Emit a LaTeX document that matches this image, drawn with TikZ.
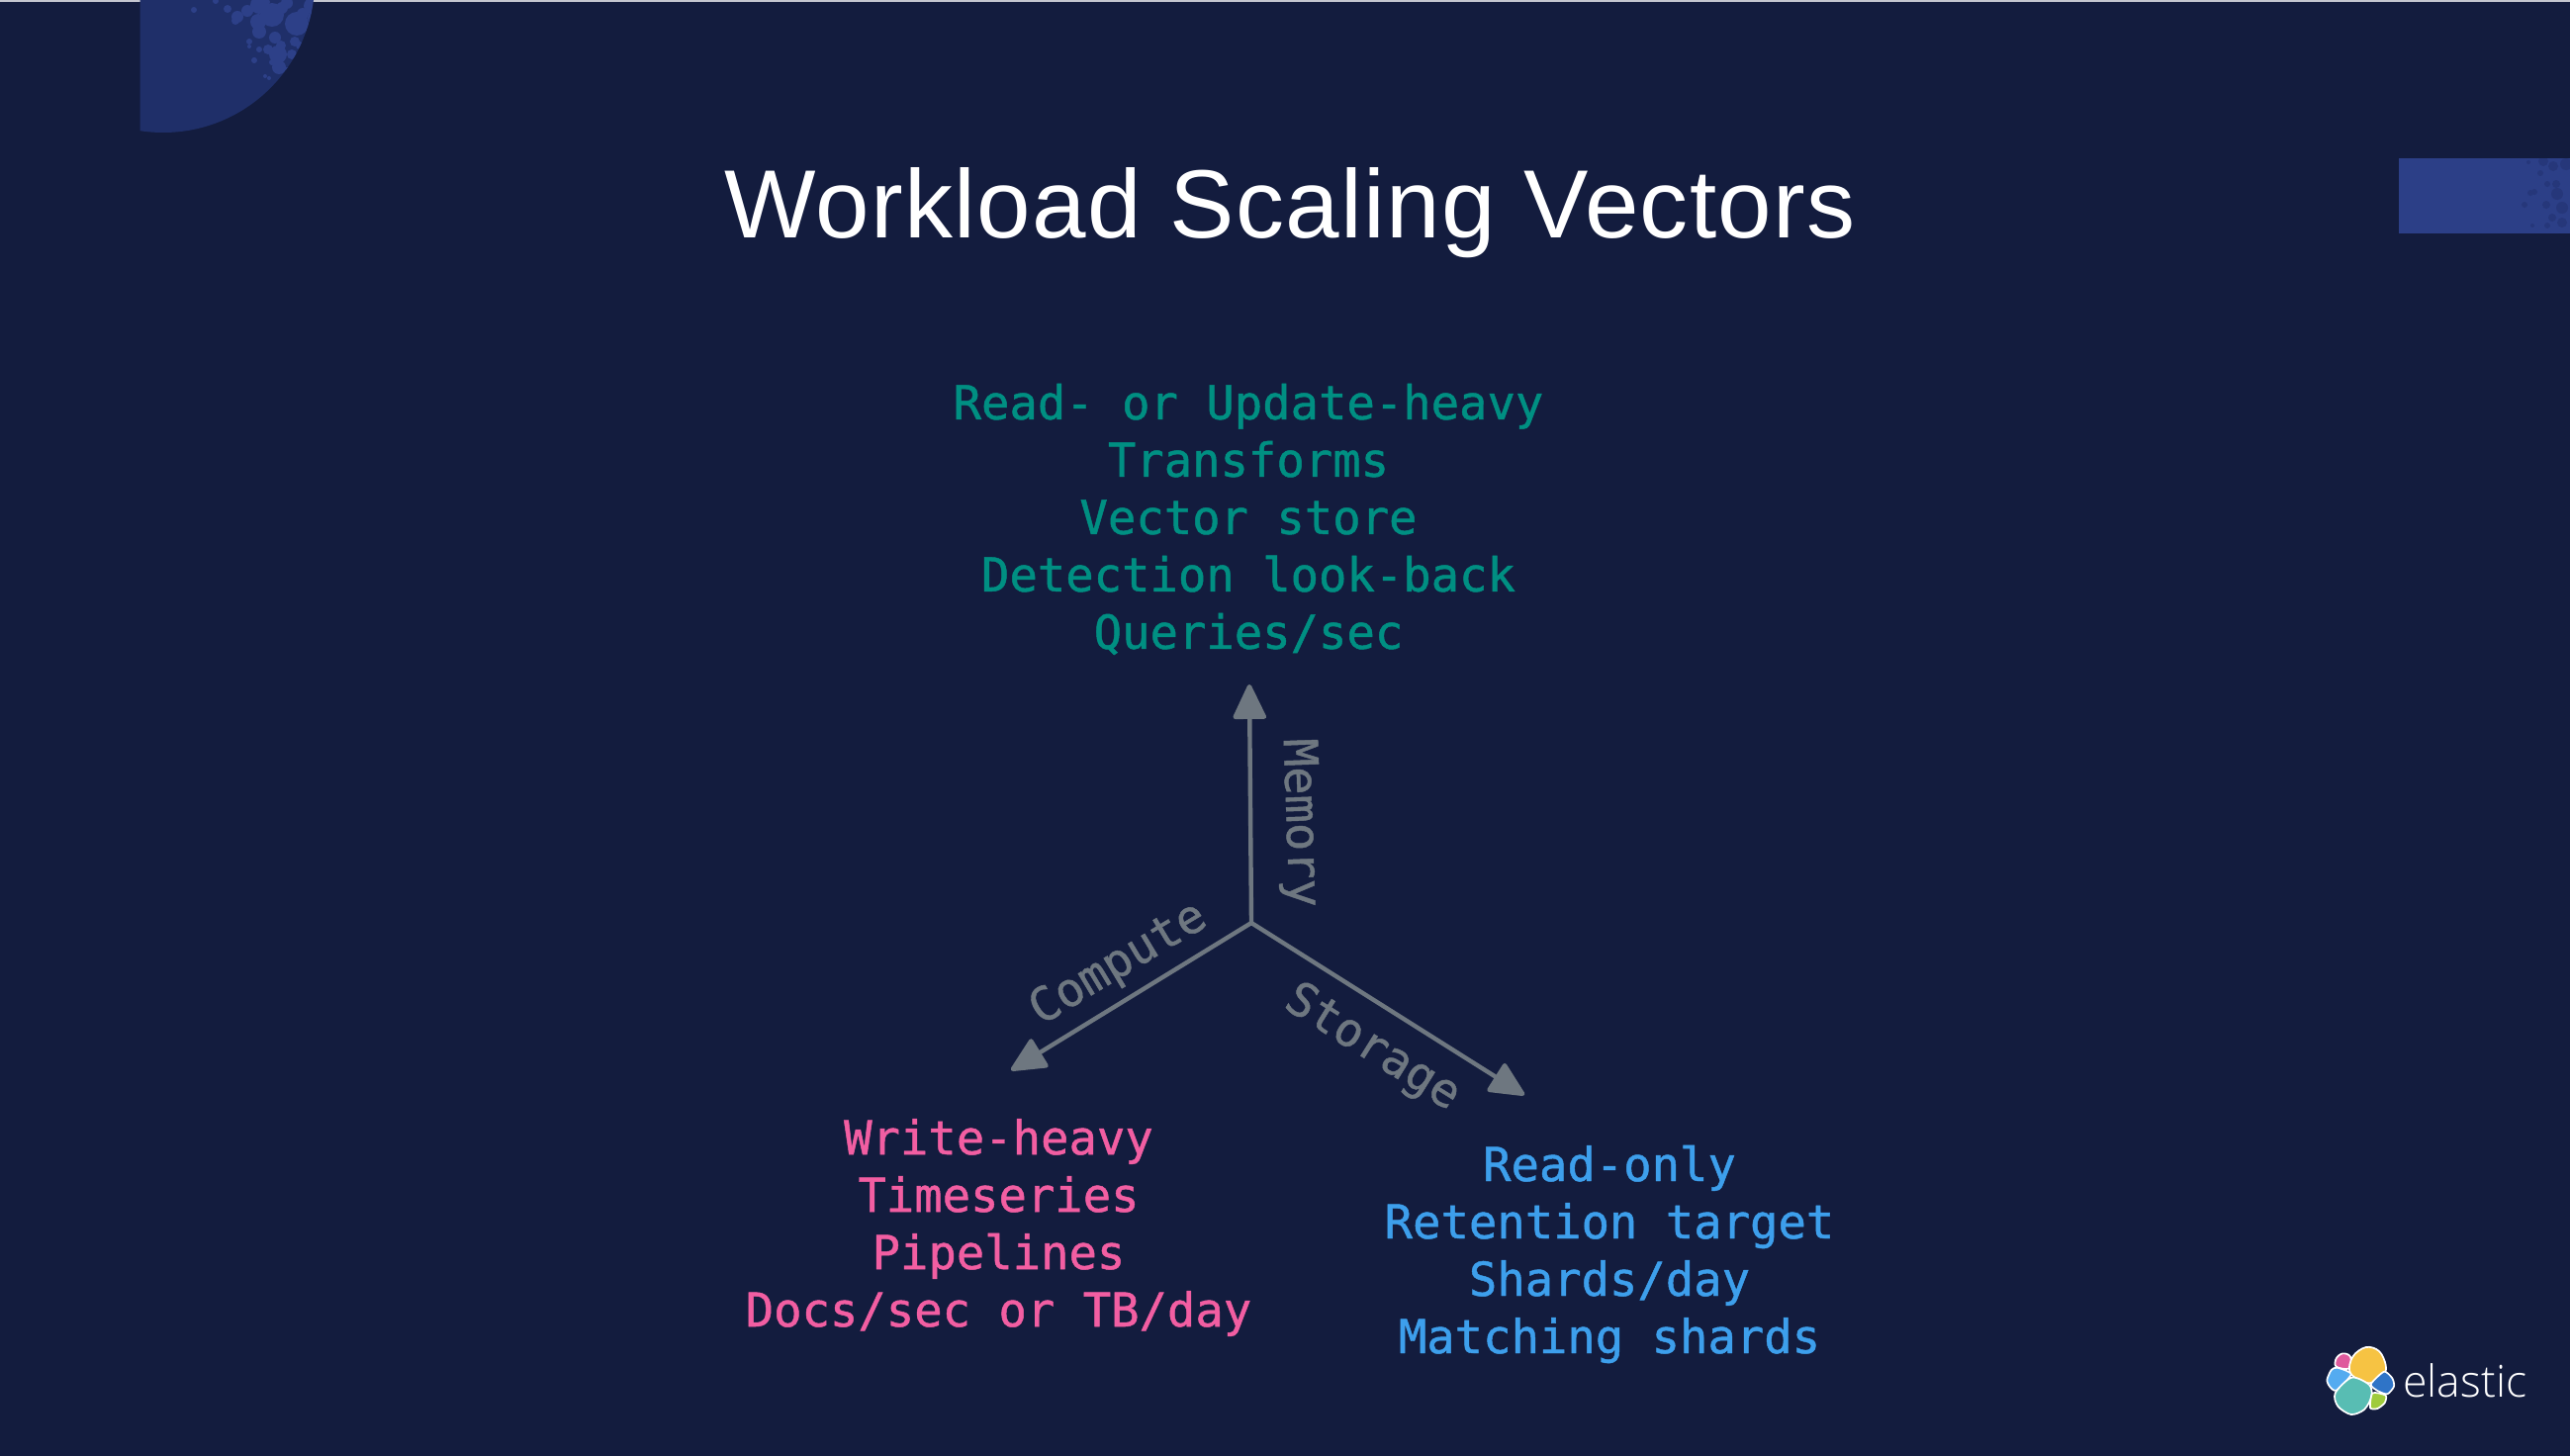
\documentclass[tikz,border=0pt]{standalone}
\usepackage{fontspec}
\setmainfont{Liberation Sans}
\newfontfamily\titlef[LetterSpace=1.4]{Liberation Sans}
\newfontfamily\monof[FakeBold=1]{DejaVu Sans Mono}
\newfontfamily\logof{Open Sans Light}
\usetikzlibrary{arrows.meta}
\definecolor{bgc}{HTML}{131C3E}
\definecolor{shapeA}{HTML}{1F2F69}
\definecolor{dotA}{HTML}{2D4088}
\definecolor{shapeB}{HTML}{2C3F87}
\definecolor{dotB}{HTML}{26377A}
\definecolor{tealc}{HTML}{008F82}
\definecolor{pinkc}{HTML}{F25EA2}
\definecolor{bluec}{HTML}{3D9FEC}
\definecolor{greyc}{HTML}{6E7780}
\definecolor{lgpink}{HTML}{DF5A9D}
\definecolor{lgyellow}{HTML}{F6C343}
\definecolor{lgsky}{HTML}{54ABF0}
\definecolor{lgteal}{HTML}{58BDB3}
\definecolor{lgblue}{HTML}{2F74C7}
\definecolor{lggreen}{HTML}{9FCB3D}
\tikzset{
  x=0.5pt,y=-0.5pt,
  listtext/.style={font=\monof\fontsize{23.6pt}{29pt}\selectfont,align=center,anchor=center,inner sep=0pt},
  axislabel/.style={font=\monof\fontsize{23.6pt}{29pt}\selectfont,text=greyc,inner sep=0pt,anchor=center},
  axisline/.style={draw=greyc,line width=2.2pt,-{Triangle[length=19pt,width=17.5pt,round]}},
  blob/.style={fill=#1,draw=white,line width=0.85pt,line join=round},
}
\begin{document}
\begin{tikzpicture}
\useasboundingbox (0,0) rectangle (2598,1472);
\fill[bgc] (0,0) rectangle (2598,1472);
\fill[white!75!bgc] (0,0) rectangle (2598,1.8);
% corner shape top-left
\begin{scope}
  \clip (141.5,0) rectangle (330,140);
  \fill[shapeA] (165,-19) circle[radius=153];
  \clip (165,-19) circle[radius=153];
  \foreach \px/\py/\pr in {300/24/12,275/15/12,250/11/6,262/5/9,196/10/3,285/8/6,240/17/6,230/9/4,
     261/22/8,238/21/4,262/32/7,278/38/6,252/42/3,284/46/5,262/50/3,303/46/4,298/42/5,
     271/50/5,252/47/2,281/55/9,295/55/5,257/60/2,290/70/2,282/68/7,257/61/3,272/79/2,268/77/2,
     306/14/6,320/18/9,315/6/8,290/3/6,270/2/3,218/1/3,275/63/3}
    \fill[dotA] (\px,\py) circle[radius=\pr];
\end{scope}
% right shape
\begin{scope}
  \clip (2425,160) rectangle (2598,236);
  \fill[shapeB] (2425,160) rectangle (2598,236);
  \foreach \px/\py/\pr in {2556/164/2,2571/163/5,2581/168/5,2594/166/6,2568/175/3,2584/186/4,2575/186/3,2558/195/3,
     2562/194/3,2552/207/3,2574/207/4,2585/196/6,2590/210/6,2580/220/4,2560/228/2,2575/228/3,2590/225/5}
    \fill[dotB] (\px,\py) circle[radius=\pr];
\end{scope}
% title
\node[font=\titlef\fontsize{49pt}{60pt}\selectfont,text=white,anchor=base,inner sep=0pt] (title) at (1304,240) {Workload Scaling Vectors};
% lists
\node[listtext,text=tealc] (memlist) at (1262,525) {Read- or Update-heavy\\Transforms\\Vector store\\Detection look-back\\Queries/sec};
\node[listtext,text=pinkc] (cpulist) at (1009.5,1241) {Write-heavy\\Timeseries\\Pipelines\\Docs/sec or TB/day};
\node[listtext,text=bluec] (storelist) at (1627,1268) {Read-only\\Retention target\\Shards/day\\Matching shards};
% axes
\coordinate (hub) at (1265,933);
\coordinate (memtip) at (1263,692);
\coordinate (cputip) at (1022,1082);
\coordinate (storetip) at (1541,1107);
\draw[axisline] (hub) -- (memtip);
\draw[axisline] (hub) -- (cputip);
\draw[axisline] (hub) -- (storetip);
\node[axislabel,rotate=-88] (memlabel) at (1313,832) {Memory};
\node[axislabel,rotate=31] (cpulabel) at (1131,975) {Compute};
\node[axislabel,rotate=-32] (storelabel) at (1387,1060) {Storage};
% logo
\begin{scope}[shift={(2320,1340)},x=0.1667pt,y=-0.1667pt]
  \draw[blob=lgpink] plot[smooth cycle,tension=0.6] coordinates {(125,100) (145,85) (168,95) (165,130) (125,125)};
  \draw[blob=lgyellow] plot[smooth cycle,tension=0.6] coordinates {(168,145) (175,95) (215,66) (255,78) (275,120) (268,150) (225,175)};
  \draw[blob=lgsky] plot[smooth cycle,tension=0.4] coordinates {(97,165) (110,135) (128,128) (170,148) (125,197) (105,185)};
  \draw[blob=lgteal] plot[smooth cycle,tension=0.5] coordinates {(172,158) (225,180) (232,215) (210,255) (170,270) (130,245) (122,205)};
  \draw[blob=lgblue] plot[smooth cycle,tension=0.4] coordinates {(230,178) (270,140) (295,160) (300,185) (280,208) (250,198)};
  \draw[blob=lggreen] plot[smooth cycle,tension=0.4] coordinates {(235,205) (275,212) (272,235) (250,252) (228,250)};
\end{scope}
\node[font=\logof\fontsize{22.3pt}{24pt}\selectfont,text=white,anchor=base west,inner sep=0pt] (logotext) at (2429,1412) {elastic};
\end{tikzpicture}
\end{document}
